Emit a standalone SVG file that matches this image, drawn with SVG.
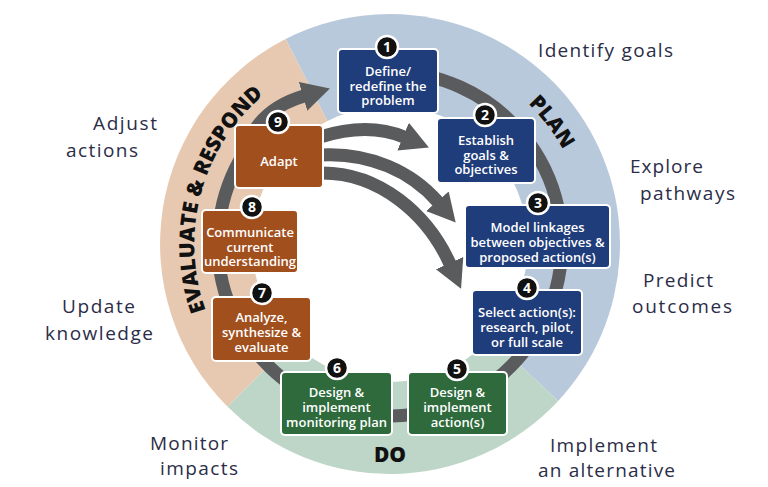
<svg xmlns="http://www.w3.org/2000/svg" width="768" height="487" viewBox="0 0 768 487">
<style>
.navy{fill:#1f3d7a;stroke:#fff;stroke-width:2}
.green{fill:#2e6a3b;stroke:#fff;stroke-width:2}
.brown{fill:#a24f1e;stroke:#fff;stroke-width:2}
.lbl{font-family:"Open Sans","Noto Sans",sans-serif;font-size:13px;font-weight:600;fill:#fff;text-anchor:middle}
.nc{fill:#111;stroke:#fff;stroke-width:2.5}
.nt{font-family:"Open Sans","Noto Sans",sans-serif;font-size:14px;font-weight:700;fill:#fff;text-anchor:middle}
.side{font-family:"Open Sans","Noto Sans",sans-serif;font-size:19px;fill:#2b2d48}
.title{font-family:"Open Sans","Noto Sans",sans-serif;font-weight:800;font-size:21px;fill:#111}
.conn{fill:none;stroke:#5a5b5d;stroke-width:13}
</style>
<defs>
<marker id="ah" markerUnits="userSpaceOnUse" markerWidth="30" markerHeight="32" viewBox="0 -16 30 32" refX="1" refY="0" orient="auto">
<path d="M0,-15 L28,0 L0,15 Z" fill="#5a5b5d"/>
</marker>
<path id="arcEval" d="M229.6,356.3 A195,195 0 0 1 307.6,67.3"/>
<path id="arcPlan" d="M467,62.7 A197,197 0 0 1 585.5,220"/>
</defs>
<rect width="768" height="487" fill="#fff"/>
<g id="background">
<path d="M390,244 L285.6,39.1 A230,230 0 0 1 558.2,400.9 Z" fill="#b9c9dc"/>
<path d="M390,244 L558.2,400.9 A230,230 0 0 1 227.4,406.6 Z" fill="#bdd6c8"/>
<path d="M390,244 L227.4,406.6 A230,230 0 0 1 285.6,39.1 Z" fill="#e7c9b2"/>
<circle cx="390" cy="244" r="138" fill="#fff"/>
<text class="title"><textPath href="#arcEval" startOffset="50%" text-anchor="middle">EVALUATE &amp; RESPOND</textPath></text>
<text class="title"><textPath href="#arcPlan" startOffset="50%" text-anchor="middle">PLAN</textPath></text>
<text class="title" x="390" y="462" text-anchor="middle">DO</text>
</g>
<g id="connectors">
<path class="conn" stroke-width="14" d="M390,72 A172,172 0 1 1 249.1,145.3"/>
<path class="conn" d="M248,142 Q263,108 304,96" marker-end="url(#ah)"/>
<path class="conn" d="M320,137 Q368,122 404,137" marker-end="url(#ah)"/>
<path class="conn" d="M320,155 C370,152 412,172 438,202" marker-end="url(#ah)"/>
<path class="conn" d="M320,173 C380,172 428,215 450,264" marker-end="url(#ah)"/>
</g>
<g id="n1">
<rect class="navy" x="338" y="49" width="100" height="64" rx="4"/>
<text class="lbl" x="388" y="76">Define/</text>
<text class="lbl" x="388" y="90.5">redefine the</text>
<text class="lbl" x="388" y="105">problem</text>
<circle class="nc" cx="387" cy="47" r="11"/><text class="nt" x="387" y="52">1</text>
</g>
<g id="n2">
<rect class="navy" x="437" y="118" width="98" height="65" rx="4"/>
<text class="lbl" x="486" y="145">Establish</text>
<text class="lbl" x="486" y="159.5">goals &amp;</text>
<text class="lbl" x="486" y="174">objectives</text>
<circle class="nc" cx="485" cy="115" r="11"/><text class="nt" x="485" y="120">2</text>
</g>
<g id="n3">
<rect class="navy" x="465" y="205" width="145" height="63" rx="4"/>
<text class="lbl" x="537.5" y="231.5">Model linkages</text>
<text class="lbl" x="537.5" y="246.5">between objectives &amp;</text>
<text class="lbl" x="537.5" y="261.5">proposed action(s)</text>
<circle class="nc" cx="538" cy="203" r="11"/><text class="nt" x="538" y="208">3</text>
</g>
<g id="n4">
<rect class="navy" x="472" y="290" width="110" height="65" rx="4"/>
<text class="lbl" x="527" y="317">Select action(s):</text>
<text class="lbl" x="527" y="332">research, pilot,</text>
<text class="lbl" x="527" y="347">or full scale</text>
<circle class="nc" cx="527" cy="288" r="11"/><text class="nt" x="527" y="293">4</text>
</g>
<g id="n5">
<rect class="green" x="408" y="372" width="99" height="63" rx="4"/>
<text class="lbl" x="457.5" y="396.5">Design &amp;</text>
<text class="lbl" x="457.5" y="411.5">implement</text>
<text class="lbl" x="457.5" y="426.5">action(s)</text>
<circle class="nc" cx="457" cy="369" r="11"/><text class="nt" x="457" y="374">5</text>
</g>
<g id="n6">
<rect class="green" x="281" y="372" width="111" height="63" rx="4"/>
<text class="lbl" x="336.5" y="396.5">Design &amp;</text>
<text class="lbl" x="336.5" y="411.5">implement</text>
<text class="lbl" x="336.5" y="426.5">monitoring plan</text>
<circle class="nc" cx="337" cy="368" r="11"/><text class="nt" x="337" y="373">6</text>
</g>
<g id="n7">
<rect class="brown" x="212" y="297" width="99" height="64" rx="4"/>
<text class="lbl" x="261.5" y="322">Analyze,</text>
<text class="lbl" x="261.5" y="337">synthesize &amp;</text>
<text class="lbl" x="261.5" y="352">evaluate</text>
<circle class="nc" cx="262" cy="293" r="11"/><text class="nt" x="262" y="298">7</text>
</g>
<g id="n8">
<rect class="brown" x="202" y="210" width="96" height="63" rx="4"/>
<text class="lbl" x="250" y="237">Communicate</text>
<text class="lbl" x="250" y="251.5">current</text>
<text class="lbl" x="250" y="266">understanding</text>
<circle class="nc" cx="252" cy="207" r="11"/><text class="nt" x="252" y="212">8</text>
</g>
<g id="n9">
<rect class="brown" x="235" y="125" width="88" height="63" rx="4"/>
<text class="lbl" x="279" y="166">Adapt</text>
<circle class="nc" cx="278" cy="122" r="11"/><text class="nt" x="278" y="127">9</text>
</g>
<g id="side-labels">
<text class="side" x="538" y="57" textLength="135" lengthAdjust="spacing">Identify goals</text>
<text class="side" x="630" y="173" textLength="73" lengthAdjust="spacing">Explore</text>
<text class="side" x="640" y="200" textLength="95" lengthAdjust="spacing">pathways</text>
<text class="side" x="643" y="287" textLength="70" lengthAdjust="spacing">Predict</text>
<text class="side" x="632" y="313" textLength="100" lengthAdjust="spacing">outcomes</text>
<text class="side" x="93" y="130" textLength="64" lengthAdjust="spacing">Adjust</text>
<text class="side" x="66" y="157" textLength="72" lengthAdjust="spacing">actions</text>
<text class="side" x="62" y="313" textLength="73" lengthAdjust="spacing">Update</text>
<text class="side" x="45" y="340" textLength="108" lengthAdjust="spacing">knowledge</text>
<text class="side" x="150" y="450" textLength="78" lengthAdjust="spacing">Monitor</text>
<text class="side" x="160" y="475" textLength="78" lengthAdjust="spacing">impacts</text>
<text class="side" x="550" y="452" textLength="107" lengthAdjust="spacing">Implement</text>
<text class="side" x="538" y="477" textLength="137" lengthAdjust="spacing">an alternative</text>
</g>
</svg>
